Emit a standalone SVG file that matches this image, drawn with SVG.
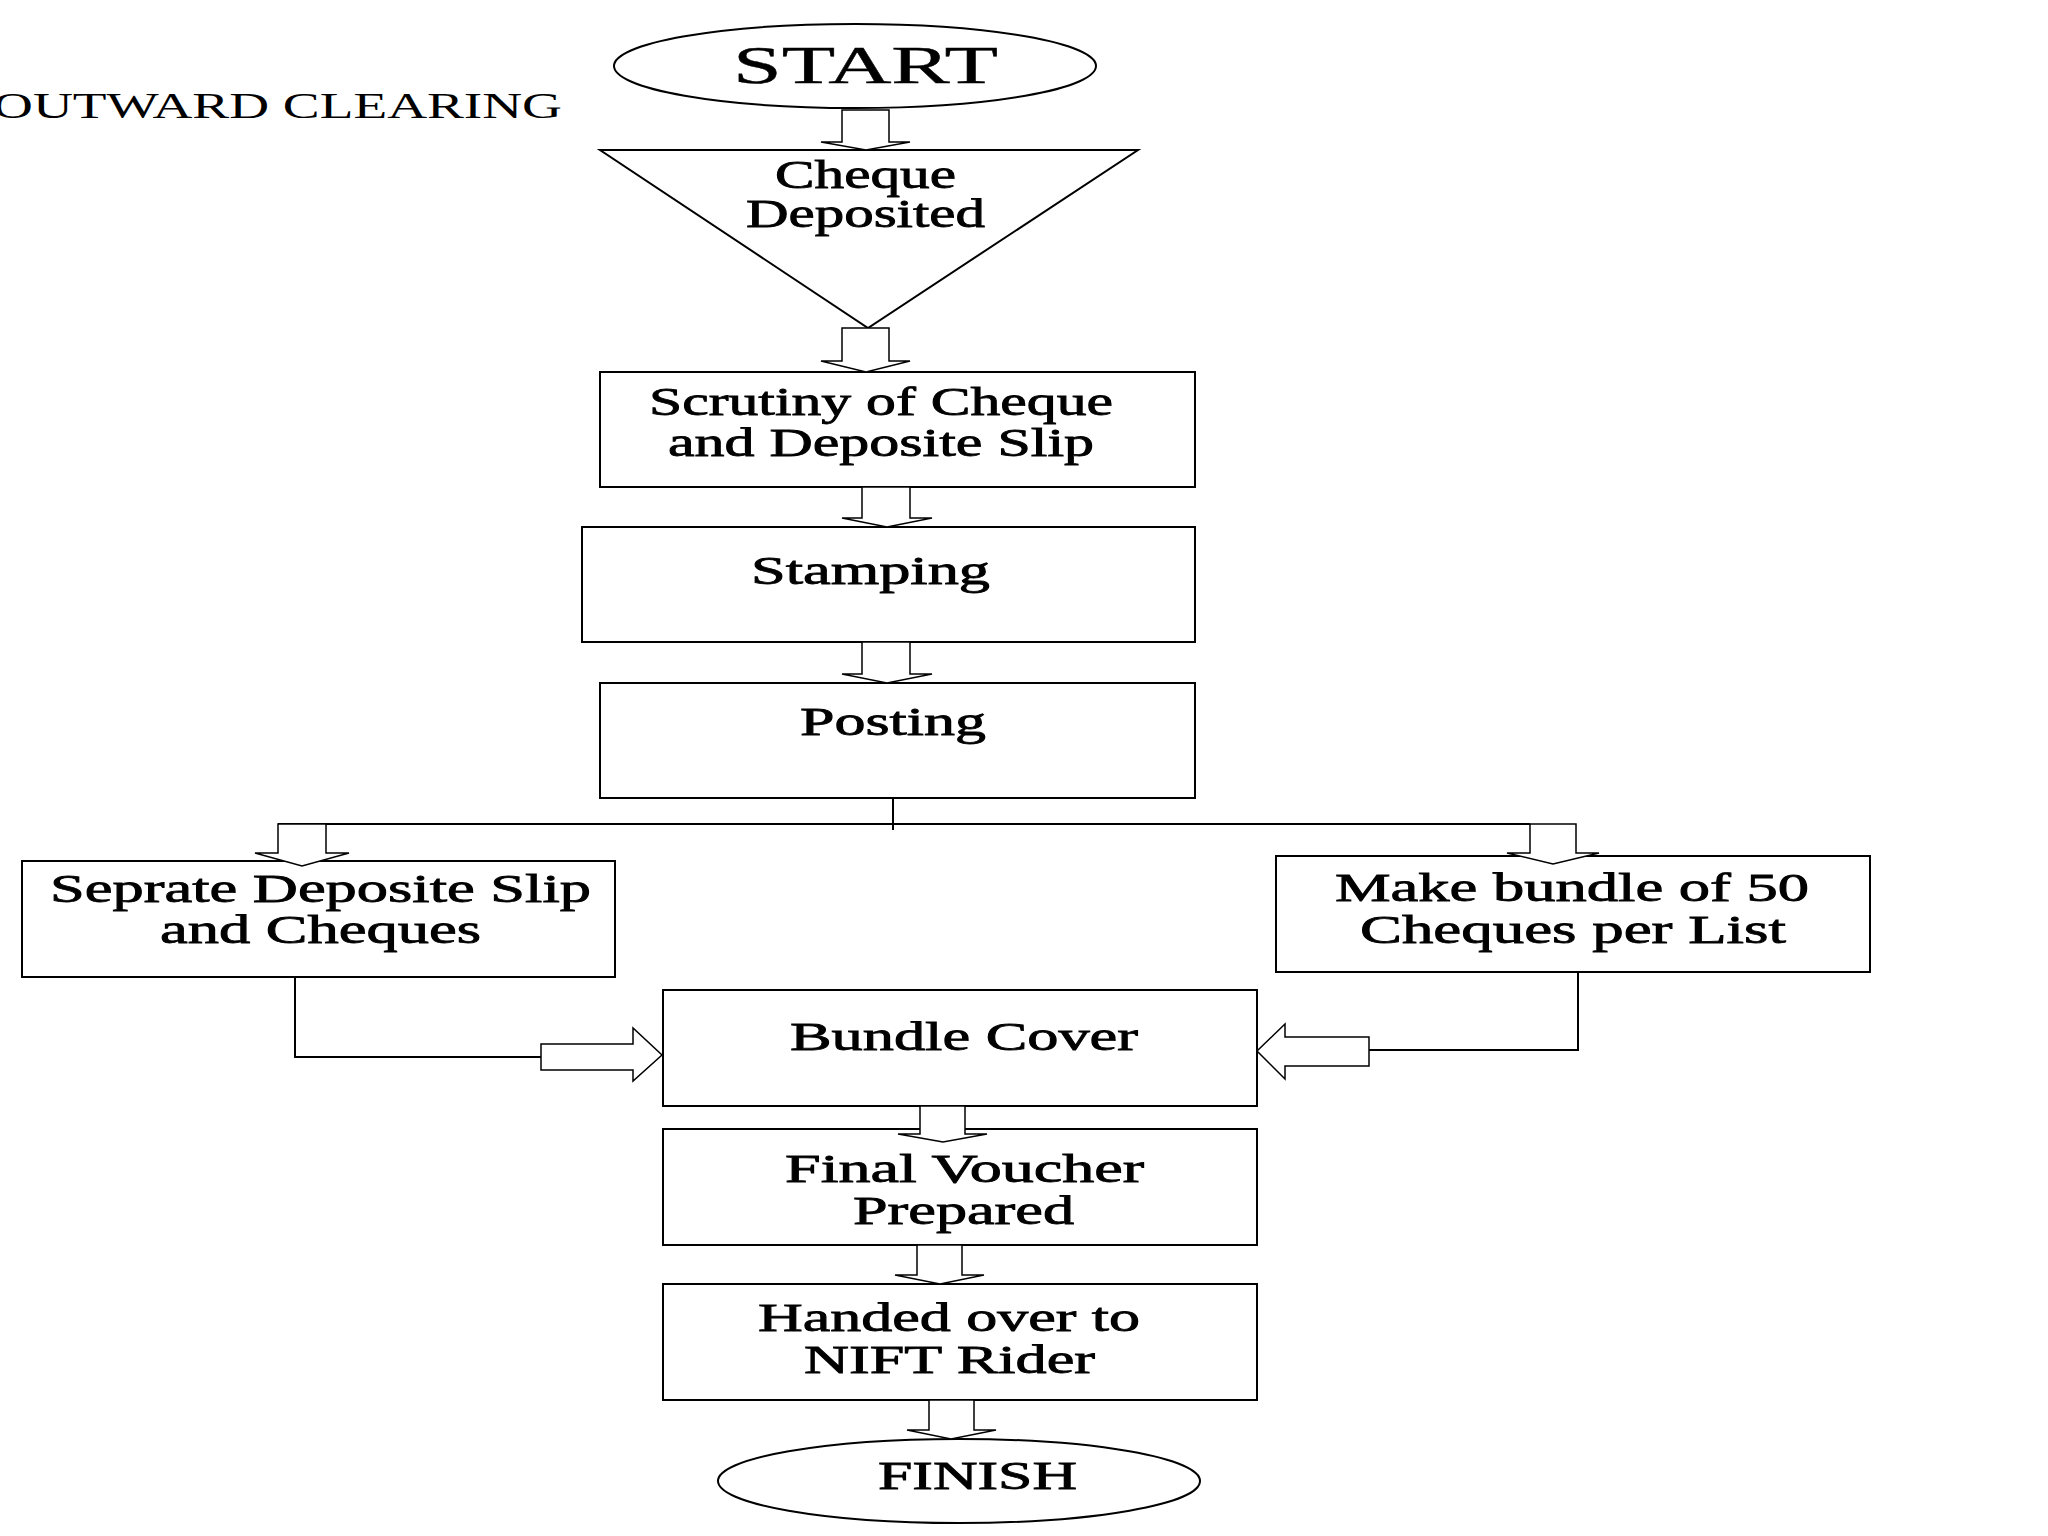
<svg xmlns="http://www.w3.org/2000/svg" width="2048" height="1536" viewBox="0 0 2048 1536">
<style>
.s{fill:#fff;stroke:#000;stroke-width:2}
.l{fill:none;stroke:#000;stroke-width:2}
.a{fill:#fff;stroke:#000;stroke-width:1.5}
text{font-family:"Liberation Serif","Times New Roman",serif;font-size:40px;fill:#000;stroke:#000;stroke-width:0.8}
</style>
<rect width="2048" height="1536" fill="#fff"/>
<text x="-7" y="118" textLength="569" lengthAdjust="spacingAndGlyphs" style="font-size:36px;stroke-width:0">OUTWARD CLEARING</text>
<g id="start"><ellipse class="s" cx="855" cy="66" rx="241" ry="42"/><text x="733" y="83" textLength="265" lengthAdjust="spacingAndGlyphs" style="font-size:52px;stroke-width:0.4">START</text></g>
<g id="deposited"><path class="s" d="M600,150H1138L868,328Z"/><text x="775" y="188" textLength="181" lengthAdjust="spacingAndGlyphs">Cheque</text><text x="746" y="227" textLength="239" lengthAdjust="spacingAndGlyphs">Deposited</text></g>
<g id="scrutiny"><rect class="s" x="600" y="372" width="595" height="115"/><text x="649" y="415" textLength="464" lengthAdjust="spacingAndGlyphs">Scrutiny of Cheque</text><text x="668" y="456" textLength="426" lengthAdjust="spacingAndGlyphs">and Deposite Slip</text></g>
<g id="stamping"><rect class="s" x="582" y="527" width="613" height="115"/><text x="751" y="584" textLength="239" lengthAdjust="spacingAndGlyphs">Stamping</text></g>
<g id="posting"><rect class="s" x="600" y="683" width="595" height="115"/><text x="800" y="735" textLength="186" lengthAdjust="spacingAndGlyphs">Posting</text></g>
<g id="separate"><rect class="s" x="22" y="861" width="593" height="116"/><text x="50" y="902" textLength="541" lengthAdjust="spacingAndGlyphs">Seprate Deposite Slip</text><text x="160" y="943" textLength="321" lengthAdjust="spacingAndGlyphs">and Cheques</text></g>
<g id="bundle50"><rect class="s" x="1276" y="856" width="594" height="116"/><text x="1335" y="901" textLength="474" lengthAdjust="spacingAndGlyphs">Make bundle of 50</text><text x="1360" y="943" textLength="426" lengthAdjust="spacingAndGlyphs">Cheques per List</text></g>
<g id="bundlecover"><rect class="s" x="663" y="990" width="594" height="116"/><text x="790" y="1050" textLength="348" lengthAdjust="spacingAndGlyphs">Bundle Cover</text></g>
<g id="voucher"><rect class="s" x="663" y="1129" width="594" height="116"/><text x="785" y="1182" textLength="359" lengthAdjust="spacingAndGlyphs">Final Voucher</text><text x="853" y="1224" textLength="221" lengthAdjust="spacingAndGlyphs">Prepared</text></g>
<g id="handed"><rect class="s" x="663" y="1284" width="594" height="116"/><text x="758" y="1331" textLength="382" lengthAdjust="spacingAndGlyphs">Handed over to</text><text x="804" y="1373" textLength="291" lengthAdjust="spacingAndGlyphs">NIFT Rider</text></g>
<g id="finish"><ellipse class="s" cx="959" cy="1481" rx="241" ry="42"/><text x="878" y="1489" textLength="199" lengthAdjust="spacingAndGlyphs">FINISH</text></g>
<g id="connectors">
<path class="a" d="M842,110H889V142H910L866,150L821,142H842Z"/>
<path class="a" d="M842,328H889V361H910L866,372L821,361H842Z"/>
<path class="a" d="M862,487H910V518H932L887,527L842,518H862Z"/>
<path class="a" d="M862,642H910V674H932L887,683L842,674H862Z"/>
<path class="l" d="M893,798V830M278,824H1530"/>
<path class="a" d="M278,824H326V853H349L302,866L255,853H278Z"/>
<path class="a" d="M1530,824H1576V853H1599L1553,864L1507,853H1530Z"/>
<path class="l" d="M295,977V1057H541M1578,972V1050H1369"/>
<path class="a" d="M541,1044H633V1028L662,1055L633,1081V1070H541Z"/>
<path class="a" d="M1369,1037H1285V1024L1257,1051L1285,1079V1066H1369Z"/>
<path class="a" d="M920,1106H965V1134H987L943,1142L898,1134H920Z"/>
<path class="a" d="M917,1245H962V1275H984L940,1284L895,1275H917Z"/>
<path class="a" d="M929,1400H974V1430H996L951,1439L907,1430H929Z"/>
</g>
</svg>
